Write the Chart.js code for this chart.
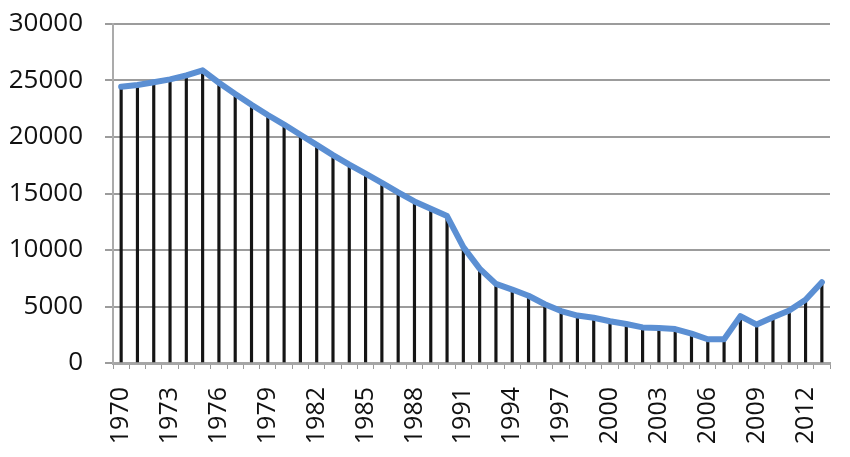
<!DOCTYPE html>
<html>
<head>
<meta charset="utf-8">
<script src="https://cdn.jsdelivr.net/npm/chart.js@4.4.1/dist/chart.umd.min.js"></script>
<style>
  body { margin: 0; background: #fff; }
  canvas { display: block; }
</style>
</head>
<body>
<canvas id="chart" width="850" height="457"></canvas>
<script>
// years 1970 - 2013
const years = [
    1970, 1971, 1972, 1973, 1974, 1975, 1976, 1977, 1978, 1979,
    1980, 1981, 1982, 1983, 1984, 1985, 1986, 1987, 1988, 1989,
    1990, 1991, 1992, 1993, 1994, 1995, 1996, 1997, 1998, 1999,
    2000, 2001, 2002, 2003, 2004, 2005, 2006, 2007, 2008, 2009,
    2010, 2011, 2012, 2013
];

const values = [
    24450, 24600, 24850, 25100, 25450, 25900, 24800, 23800, 22850, 21950,
    21100, 20200, 19300, 18400, 17550, 16750, 15950, 15100, 14300, 13650,
    13000, 10250, 8350, 7000, 6500, 5950, 5200, 4600, 4200, 4000,
    3700, 3450, 3150, 3100, 3000, 2600, 2100, 2100, 4150, 3400,
    4050, 4650, 5600, 7150
];

const yTicks = [0, 5000, 10000, 15000, 20000, 25000, 30000];

const labels = years.map(String);

const ctx = document.getElementById('chart').getContext('2d');

new Chart(ctx, {
    type: 'line',
    data: {
        labels,
        datasets: [
            {
                // blue series line, drawn on top
                type: 'line',
                data: values,
                borderColor: '#5b8fd3',
                borderWidth: 6,
                pointRadius: 0,
                tension: 0,
                borderJoinStyle: 'round',
                borderCapStyle: 'round'
            },
            {
                // thin black drop lines down to the axis
                type: 'bar',
                data: values,
                backgroundColor: '#151515',
                barThickness: 2.5
            }
        ]
    },
    options: {
        responsive: false,
        animation: false,
        devicePixelRatio: 1,
        layout: {
            padding: { top: 24, right: 20, left: 0, bottom: 0 }
        },
        plugins: {
            legend: { display: false },
            tooltip: { enabled: false }
        },
        scales: {
            x: {
                offset: true,
                grid: {
                    drawOnChartArea: false,
                    color: '#999',
                    tickLength: 6,
                    lineWidth: 1
                },
                border: { color: '#a6a6a6', width: 3 },
                ticks: {
                    autoSkip: false,
                    minRotation: 90,
                    maxRotation: 90,
                    padding: 18,
                    color: '#111',
                    font: { family: 'Open Sans', size: 25 },
                    callback: function(val, idx) {
                        return idx % 3 === 0 ? labels[idx] : '';
                    }
                },
                // fixed axis height, no extra side padding for the rotated labels
                afterFit: s => {
                    s.height = 94;
                    s.paddingLeft = 0;
                    s.paddingRight = 0;
                }
            },
            y: {
                min: 0,
                max: 30000,
                afterBuildTicks: s => { s.ticks = yTicks.map(v => ({ value: v })); },
                grid: {
                    color: '#9c9c9c',
                    lineWidth: 2,
                    tickLength: 8
                },
                border: { color: '#ababab', width: 2 },
                ticks: {
                    padding: 22,
                    color: '#111',
                    font: { family: 'Open Sans', size: 26 },
                    callback: v => String(v)
                },
                afterFit: s => {
                    s.width = 113;
                    s.paddingTop = 0;
                    s.paddingBottom = 0;
                }
            }
        }
    }
});
</script>
</body>
</html>
